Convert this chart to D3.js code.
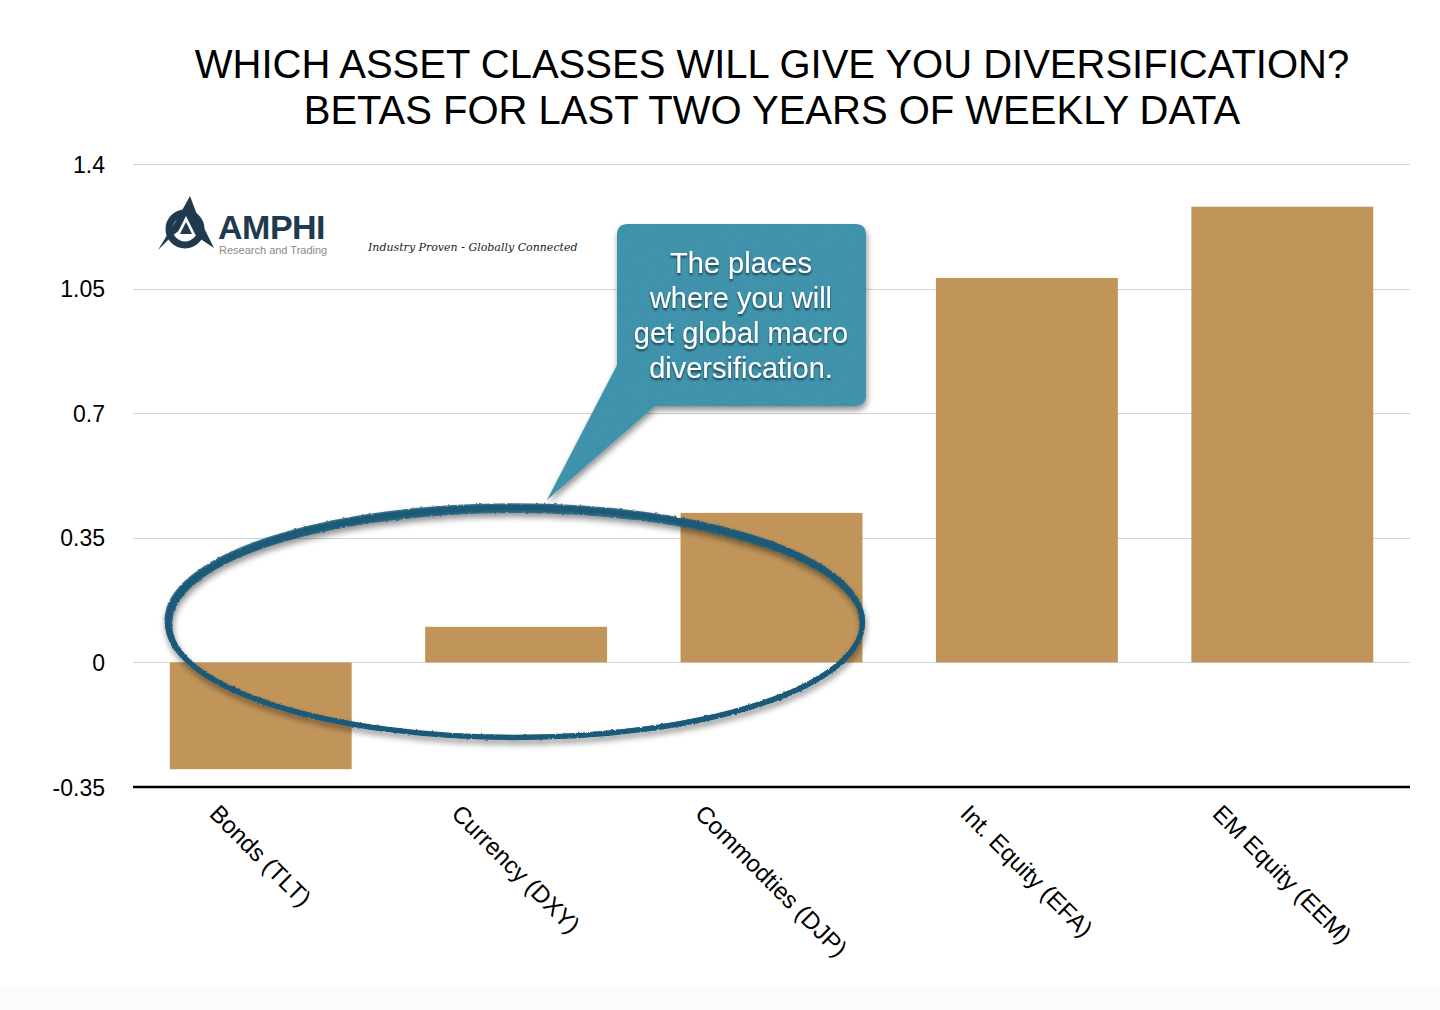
<!DOCTYPE html>
<html><head><meta charset="utf-8">
<script src="https://cdn.jsdelivr.net/npm/d3@7/dist/d3.min.js"></script>
<style>
html,body{margin:0;padding:0;background:#fff;}
svg{display:block;}
</style></head>
<body>
<svg id="chart" width="1440" height="1010"></svg>
<script>
// ---- data ----
const categories = ["Bonds (TLT)", "Currency (DXY)", "Commodties (DJP)", "Int. Equity (EFA)", "EM Equity (EEM)"];
const betas = [-0.30, 0.10, 0.42, 1.08, 1.28];
const tickValues = [-0.35, 0, 0.35, 0.7, 1.05, 1.4];
const tickLabels = ["-0.35", "0", "0.35", "0.7", "1.05", "1.4"];
const titleLines = ["WHICH ASSET CLASSES WILL GIVE YOU DIVERSIFICATION?", "BETAS FOR LAST TWO YEARS OF WEEKLY DATA"];
const calloutLines = ["The places", "where you will", "get global macro", "diversification."];

const svg = d3.select("#chart");
const W = 1440, H = 1010;
const font = "'Liberation Sans', Arial, Helvetica, sans-serif";

// faint bottom strip
svg.append("rect").attr("x",0).attr("y",986).attr("width",W).attr("height",H-986).attr("fill","#fbfbfb");

const defs = svg.append("defs");
const sh = defs.append("filter").attr("id","shadow").attr("x","-20%").attr("y","-20%").attr("width","140%").attr("height","150%");
sh.append("feGaussianBlur").attr("in","SourceAlpha").attr("stdDeviation",3);
sh.append("feOffset").attr("dx",1).attr("dy",4).attr("result","ob");
sh.append("feComponentTransfer").append("feFuncA").attr("type","linear").attr("slope",0.45);
const m1 = sh.append("feMerge"); m1.append("feMergeNode"); m1.append("feMergeNode").attr("in","SourceGraphic");

const tsh = defs.append("filter").attr("id","tshadow").attr("x","-10%").attr("y","-10%").attr("width","120%").attr("height","130%");
tsh.append("feGaussianBlur").attr("in","SourceAlpha").attr("stdDeviation",1);
tsh.append("feOffset").attr("dx",0).attr("dy",1.5);
tsh.append("feComponentTransfer").append("feFuncA").attr("type","linear").attr("slope",0.6);
const m2 = tsh.append("feMerge"); m2.append("feMergeNode"); m2.append("feMergeNode").attr("in","SourceGraphic");

const noise = defs.append("filter").attr("id","noise").attr("x","0").attr("y","0").attr("width","100%").attr("height","100%");
noise.append("feTurbulence").attr("type","fractalNoise").attr("baseFrequency",0.9).attr("numOctaves",2).attr("seed",3).attr("result","t");
noise.append("feColorMatrix").attr("in","t").attr("type","matrix")
  .attr("values","0 0 0 0 0.1  0 0 0 0 0.35  0 0 0 0 0.45  0 0 0 -1.6 1.1").attr("result","n");
noise.append("feComposite").attr("in","n").attr("in2","SourceGraphic").attr("operator","in");

// rough edge filter for hand-drawn ellipse
const rough = defs.append("filter").attr("id","rough").attr("x","-5%").attr("y","-10%").attr("width","110%").attr("height","120%");
rough.append("feTurbulence").attr("type","fractalNoise").attr("baseFrequency",0.35).attr("numOctaves",2).attr("seed",7).attr("result","rt");
rough.append("feDisplacementMap").attr("in","SourceGraphic").attr("in2","rt").attr("scale",2.5).attr("xChannelSelector","R").attr("yChannelSelector","G");

// ---- scales ----
const x = d3.scaleBand().domain(categories).range([133, 1410]).paddingInner(0.2877).paddingOuter(0.14385);
const y = d3.scaleLinear().domain([-0.35, 1.4]).range([787, 164]);

// title
svg.append("g").selectAll("text").data(titleLines).join("text")
  .attr("x", 772).attr("y", (d,i)=> 78 + i*46)
  .attr("text-anchor","middle").attr("font-family",font).attr("font-size",40).attr("fill","#000")
  .text(d=>d);

// gridlines + y axis
const yAxis = d3.axisLeft(y).tickValues(tickValues).tickFormat((d,i)=>tickLabels[i]).tickSize(0).tickPadding(0);
const gy = svg.append("g").attr("transform","translate(105,0)").call(yAxis);
gy.select(".domain").remove();
gy.selectAll("text").attr("font-family",font).attr("font-size",23).attr("fill","#000").attr("dy","0.35em").attr("x",0);

svg.append("g").selectAll("line").data(tickValues.filter(v=>v>-0.35)).join("line")
  .attr("x1",133).attr("x2",1410).attr("y1",d=>Math.round(y(d))+0.5).attr("y2",d=>Math.round(y(d))+0.5)
  .attr("stroke","#d4d4d4").attr("stroke-width",1);

// logo
const logo = svg.append("g");
logo.append("circle").attr("cx",185).attr("cy",229).attr("r",16).attr("fill","none").attr("stroke","#1f3a4e").attr("stroke-width",7);
logo.append("path").attr("d","M190,196 L196,212 L214,248 L196,236 L185,226 L172,236 L158,250 L180,214 Z").attr("fill","#1f3a4e");
logo.append("path").attr("d","M186,216 L196,236 L176,236 Z").attr("fill","#fff");
logo.append("path").attr("d","M186,222 L192,234 L180,234 Z").attr("fill","#1f3a4e");
logo.append("text").attr("x",218).attr("y",239).attr("font-family",font).attr("font-weight","bold").attr("font-size",34).attr("letter-spacing",-0.5).attr("fill","#1f3a4e").text("AMPHI");
logo.append("text").attr("x",219).attr("y",254).attr("font-family",font).attr("font-size",11).attr("fill","#8a8a8a").text("Research and Trading");
logo.append("text").attr("x",368).attr("y",251).attr("font-family","'DejaVu Serif', serif").attr("font-style","italic").attr("font-size",11).attr("fill","#222").text("Industry Proven - Globally Connected");

// bars
svg.append("g").selectAll("rect").data(categories).join("rect")
  .attr("x", d=>x(d)).attr("width", x.bandwidth())
  .attr("y", (d,i)=> y(Math.max(0, betas[i])))
  .attr("height", (d,i)=> Math.abs(y(betas[i]) - y(0)))
  .attr("fill", "#c1955a");

// x axis line
svg.append("line").attr("x1",133).attr("x2",1410).attr("y1",787).attr("y2",787).attr("stroke","#000").attr("stroke-width",2.5);

// x labels rotated
const xl = svg.append("g").selectAll("text").data(categories).join("text")
  .attr("font-family",font).attr("font-size",24).attr("fill","#000")
  .attr("text-anchor","middle").attr("dominant-baseline","central")
  .text(d=>d);
xl.each(function(d){
  const L = this.getComputedTextLength();
  const cx = x(d) + x.bandwidth()/2;
  const cy = 802 + (L + 20) * 0.3536;
  d3.select(this).attr("transform",`translate(${cx},${cy}) rotate(45)`);
});

// hand-drawn ellipse around first three categories
const exL = x(categories[0]) - 2, exR = x(categories[2]) + x.bandwidth();
const ecx = (exL + exR)/2, ecy = y(0.115);
const erx = (exR - exL)/2, ery = y(0) - y(0.323);
const eg = svg.append("g").attr("filter","url(#shadow)");
const eg2 = eg.append("g").attr("filter","url(#rough)");
const strokes = [
  {dx:0, dy:1, drx:0, dry:0, w:5.5, o:1},
  {dx:1, dy:2.5, drx:-2, dry:-1, w:3, o:0.9},
  {dx:-1, dy:-1, drx:1, dry:1, w:2.5, o:0.85},
  {dx:0, dy:3.5, drx:-1, dry:-2, w:2, o:0.8}
];
eg2.selectAll("ellipse").data(strokes).join("ellipse")
  .attr("cx", s=>ecx + s.dx).attr("cy", s=>ecy + s.dy)
  .attr("rx", s=>erx + s.drx).attr("ry", s=>ery + s.dry)
  .attr("fill","none").attr("stroke","#1b5a78").attr("stroke-width", s=>s.w).attr("stroke-opacity", s=>s.o);

// callout
const bx = 617, by = 224, bw = 249, bh = 182, r = 11;
const tipX = 547, tipY = 500;
const cpath = `M${bx+r},${by} H${bx+bw-r} Q${bx+bw},${by} ${bx+bw},${by+r} V${by+bh-r} Q${bx+bw},${by+bh} ${bx+bw-r},${by+bh} H${655} L${tipX},${tipY} L${bx},${365} V${by+r} Q${bx},${by} ${bx+r},${by} Z`;
const cg = svg.append("g");
cg.append("path").attr("d",cpath).attr("fill","#3a90aa").attr("filter","url(#shadow)");
cg.append("path").attr("d",cpath).attr("fill","#3a90aa").attr("filter","url(#noise)").attr("opacity",0.55);
cg.append("g").attr("filter","url(#tshadow)").selectAll("text").data(calloutLines).join("text")
  .attr("x", 741).attr("y",(d,i)=> 273 + i*35)
  .attr("text-anchor","middle").attr("font-family",font).attr("font-size",29).attr("fill","#fff")
  .text(d=>d);
</script>
</body></html>
